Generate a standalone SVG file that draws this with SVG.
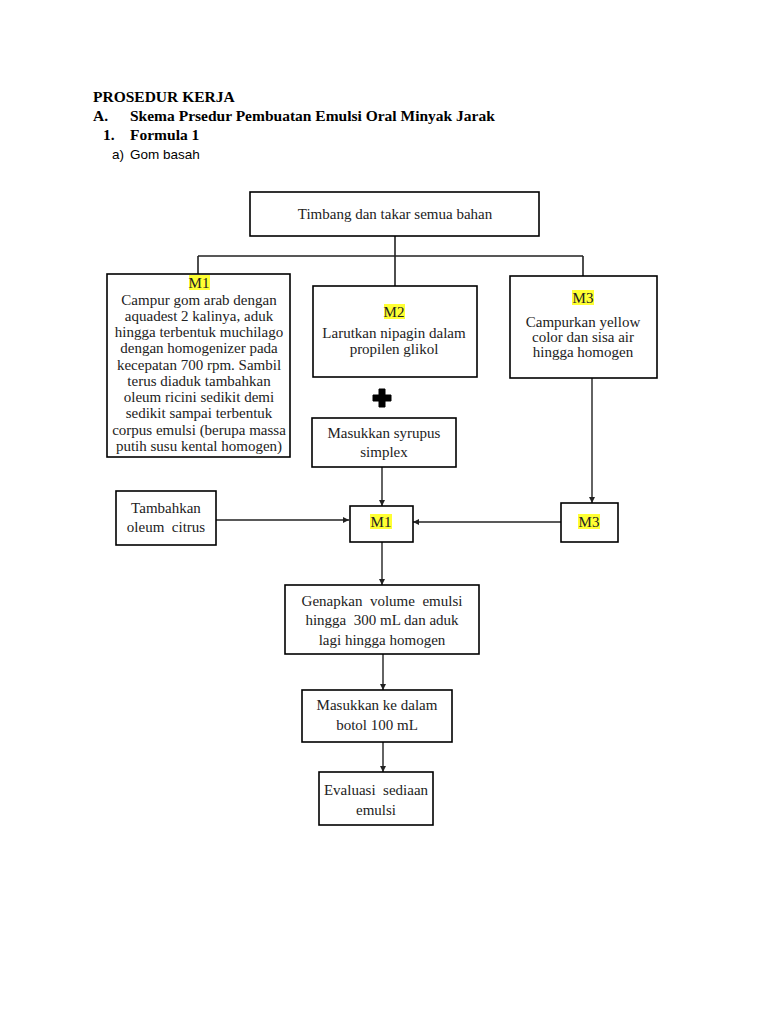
<svg xmlns="http://www.w3.org/2000/svg" width="768" height="1024" viewBox="0 0 768 1024">
<style>
.box{fill:#fff;stroke:#000;stroke-width:1.6}
.t{font-family:"Liberation Serif","Times New Roman",serif;font-size:15px;fill:#222;text-anchor:middle}
.h{font-family:"Liberation Serif","Times New Roman",serif;font-size:15.5px;font-weight:bold;fill:#000}
.r{font-family:"Liberation Sans",Arial,sans-serif;font-size:13.5px;fill:#000}
.hl{fill:#ffff33}
.ln{fill:none;stroke:#222;stroke-width:1.6}
.ar{fill:none;stroke:#222;stroke-width:1.4;marker-end:url(#ah)}
</style>
<defs>
<marker id="ah" viewBox="0 0 10 10" refX="10" refY="5" markerWidth="6" markerHeight="6" markerUnits="userSpaceOnUse" orient="auto">
<path d="M0,0 L10,5 L0,10 z" fill="#222"/>
</marker>
</defs>
<rect width="768" height="1024" fill="#fff"/>
<g id="header">
<text class="h" x="93" y="102">PROSEDUR KERJA</text>
<text class="h" x="93" y="121">A.</text>
<text class="h" x="130" y="121">Skema Prsedur Pembuatan Emulsi Oral Minyak Jarak</text>
<text class="h" x="103" y="140">1.</text>
<text class="h" x="130" y="140">Formula 1</text>
<text class="r" x="112" y="159">a)</text>
<text class="r" x="130" y="159">Gom basah</text>
</g>
<g id="connectors">
<path class="ln" d="M395,236 V256 M198,256 H583 M198,256 V274 M395,256 V286 M583,256 V276"/>
<path class="ar" d="M382,467 V506"/>
<path class="ar" d="M592,378 V503"/>
<path class="ar" d="M216,520 H349"/>
<path class="ar" d="M561,522 H413"/>
<path class="ar" d="M382,542 V585"/>
<path class="ar" d="M383,654 V690"/>
<path class="ar" d="M383,742 V772"/>
</g>
<g id="n-timbang">
<rect class="box" x="250" y="192" width="289" height="44"/>
<text class="t" x="395" y="219">Timbang dan takar semua bahan</text>
</g>
<g id="n-m1">
<rect class="box" x="107" y="274" width="183" height="183"/>
<rect class="hl" x="189" y="275" width="21" height="15"/>
<text class="t" x="199" y="288">M1</text>
<text class="t" x="199" y="305">Campur gom arab dengan</text>
<text class="t" x="199" y="321">aquadest 2 kalinya, aduk</text>
<text class="t" x="199" y="337">hingga terbentuk muchilago</text>
<text class="t" x="199" y="353">dengan homogenizer pada</text>
<text class="t" x="199" y="370">kecepatan 700 rpm. Sambil</text>
<text class="t" x="199" y="386">terus diaduk tambahkan</text>
<text class="t" x="199" y="402">oleum ricini sedikit demi</text>
<text class="t" x="199" y="418">sedikit sampai terbentuk</text>
<text class="t" x="199" y="435">corpus emulsi (berupa massa</text>
<text class="t" x="199" y="451">putih susu kental homogen)</text>
</g>
<g id="n-m2">
<rect class="box" x="313" y="286" width="164" height="91"/>
<rect class="hl" x="384" y="304" width="21" height="15"/>
<text class="t" x="394" y="317">M2</text>
<text class="t" x="394" y="338">Larutkan nipagin dalam</text>
<text class="t" x="394" y="354">propilen glikol</text>
</g>
<g id="n-m3">
<rect class="box" x="510" y="276" width="147" height="102"/>
<rect class="hl" x="572" y="290" width="22" height="15"/>
<text class="t" x="583" y="303">M3</text>
<text class="t" x="583" y="327">Campurkan yellow</text>
<text class="t" x="583" y="342">color dan sisa air</text>
<text class="t" x="583" y="357">hingga homogen</text>
</g>
<g id="plus">
<path d="M379,389 H385 V395 H391 V401 H385 V407 H379 V401 H373 V395 H379 z" fill="#000" stroke="#000" stroke-width="1" stroke-linejoin="round"/>
</g>
<g id="n-syrup">
<rect class="box" x="312" y="418" width="144" height="49"/>
<text class="t" x="384" y="438">Masukkan syrupus</text>
<text class="t" x="384" y="457">simplex</text>
</g>
<g id="n-citrus">
<rect class="box" x="116" y="491" width="100" height="54"/>
<text class="t" x="166" y="513">Tambahkan</text>
<text class="t" x="166" y="532" xml:space="preserve">oleum  citrus</text>
</g>
<g id="n-m1b">
<rect class="box" x="350" y="506" width="63" height="36"/>
<rect class="hl" x="370" y="514" width="22" height="15"/>
<text class="t" x="381" y="527">M1</text>
</g>
<g id="n-m3b">
<rect class="box" x="561" y="503" width="57" height="39"/>
<rect class="hl" x="578" y="514" width="22" height="15"/>
<text class="t" x="589" y="527">M3</text>
</g>
<g id="n-genap">
<rect class="box" x="285" y="585" width="194" height="69"/>
<text class="t" x="382" y="606" xml:space="preserve">Genapkan  volume  emulsi</text>
<text class="t" x="382" y="625" xml:space="preserve">hingga  300 mL dan aduk</text>
<text class="t" x="382" y="645">lagi hingga homogen</text>
</g>
<g id="n-botol">
<rect class="box" x="302" y="690" width="150" height="52"/>
<text class="t" x="377" y="710">Masukkan ke dalam</text>
<text class="t" x="377" y="730">botol 100 mL</text>
</g>
<g id="n-eval">
<rect class="box" x="319" y="772" width="114" height="53"/>
<text class="t" x="376" y="795" xml:space="preserve">Evaluasi  sediaan</text>
<text class="t" x="376" y="815">emulsi</text>
</g>
</svg>
